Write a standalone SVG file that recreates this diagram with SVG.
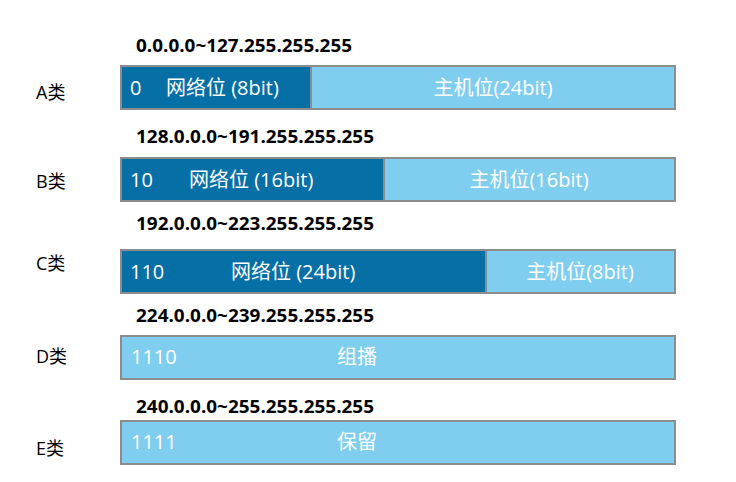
<svg xmlns="http://www.w3.org/2000/svg" width="736" height="482" viewBox="0 0 736 482">
<style>
.rng{font-family:"Open Sans","Noto Sans CJK SC",sans-serif;font-size:17px;font-weight:bold;fill:#000}
.cls{font-family:"Open Sans","Noto Sans CJK SC",sans-serif;font-size:18px;fill:#000}
.t{font-family:"Open Sans","Noto Sans CJK SC",sans-serif;font-size:20px;fill:#fff}
.dk{fill:#066FA6;stroke:#8C8C8C;stroke-width:2}
.lt{fill:#7FCEF0;stroke:#8C8C8C;stroke-width:2}
</style>
<rect width="736" height="482" fill="#fff"/>
<g id="rowA">
<text class="rng" x="136" y="52" textLength="216" lengthAdjust="spacingAndGlyphs">0.0.0.0~127.255.255.255</text>
<text class="cls" x="36" y="99">A类</text>
<rect class="lt" x="121" y="66" width="554" height="43"/>
<rect class="dk" x="121" y="66" width="190" height="43"/>
<text class="t" x="130" y="95">0</text>
<text class="t" x="166" y="95">网络位 (8bit)</text>
<text class="t" x="493" y="95" text-anchor="middle">主机位(24bit)</text>
</g>
<g id="rowB">
<text class="rng" x="136" y="143" textLength="238" lengthAdjust="spacingAndGlyphs">128.0.0.0~191.255.255.255</text>
<text class="cls" x="36" y="188">B类</text>
<rect class="lt" x="121" y="158" width="554" height="43"/>
<rect class="dk" x="121" y="158" width="263" height="43"/>
<text class="t" x="130" y="187">10</text>
<text class="t" x="189" y="187">网络位 (16bit)</text>
<text class="t" x="529" y="187" text-anchor="middle">主机位(16bit)</text>
</g>
<g id="rowC">
<text class="rng" x="136" y="230" textLength="238" lengthAdjust="spacingAndGlyphs">192.0.0.0~223.255.255.255</text>
<text class="cls" x="36" y="270">C类</text>
<rect class="lt" x="121" y="250" width="554" height="43"/>
<rect class="dk" x="121" y="250" width="365" height="43"/>
<text class="t" x="130" y="279">110</text>
<text class="t" x="231" y="279">网络位 (24bit)</text>
<text class="t" x="580" y="279" text-anchor="middle">主机位(8bit)</text>
</g>
<g id="rowD">
<text class="rng" x="136" y="322" textLength="238" lengthAdjust="spacingAndGlyphs">224.0.0.0~239.255.255.255</text>
<text class="cls" x="36" y="363">D类</text>
<rect class="lt" x="121" y="336" width="554" height="43"/>
<text class="t" x="131" y="364">1110</text>
<text class="t" x="337" y="364">组播</text>
</g>
<g id="rowE">
<text class="rng" x="136" y="413" textLength="238" lengthAdjust="spacingAndGlyphs">240.0.0.0~255.255.255.255</text>
<text class="cls" x="36" y="455">E类</text>
<rect class="lt" x="121" y="421" width="554" height="43"/>
<text class="t" x="131" y="449">1111</text>
<text class="t" x="337" y="449">保留</text>
</g>
<g id="connectors"></g>
</svg>
